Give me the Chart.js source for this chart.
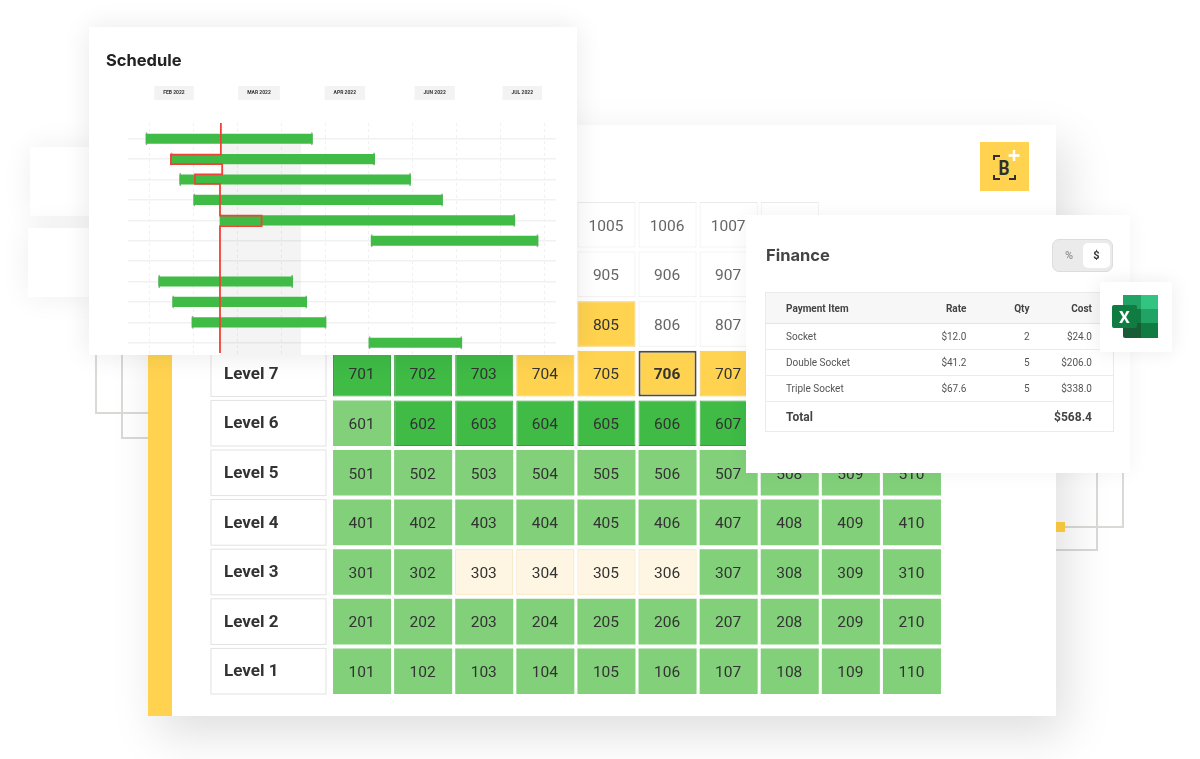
<!DOCTYPE html>
<html>
<head>
<meta charset="utf-8">
<title>Schedule and Finance</title>
<script src="https://cdn.jsdelivr.net/npm/chart.js@4"></script>
<style>
  html, body { margin: 0; padding: 0; background: #fff; font-family: Roboto, sans-serif; }
  #page { position: relative; width: 1200px; height: 759px; overflow: hidden; }
  #page > * { position: absolute; }
  .wire { background: #d9d9d5; }
  .blank { background: #fff; box-shadow: 0 0 30px rgba(0,0,0,.07); }
  #main { left: 148px; top: 125px; width: 908px; height: 591px; background: #fff; box-shadow: 10px 18px 44px rgba(0,0,0,.13); }
  #strip { left: 148px; top: 125px; width: 24px; height: 591px; background: #FFD24F; }
  #heat { left: 0; top: 0; }
  #logo { left: 980px; top: 142px; width: 49px; height: 49px; background: #FFD24F; }
  #schedule { left: 89px; top: 27px; width: 488px; height: 328px; background: #fff; box-shadow: 0 0 26px rgba(0,0,0,.09); }
  #schedule h2 { position: absolute; left: 17px; top: 23px; margin: 0; font: 700 16.5px/20px Inter, sans-serif; color: #222; }
  #gantt { position: absolute; left: 0; top: 0; }
  #finance { left: 746px; top: 215px; width: 384px; height: 258px; background: #fff; box-shadow: 0 0 20px rgba(0,0,0,.05); }
  #finance h2 { position: absolute; left: 20px; top: 30px; margin: 0; font: 700 16.5px/20px Inter, sans-serif; color: #444; }
  #toggle { position: absolute; left: 306px; top: 24px; width: 59px; height: 31px; background: #ebebeb; border: 1px solid #ddd; border-radius: 7px; font: 700 11px/31px Roboto, sans-serif; color: #999; }
  #toggle span { position: absolute; top: 0; text-align: center; }
  #toggle .pct { left: 3px; width: 26px; }
  #toggle .usd { left: 30px; width: 27px; top: 3px; height: 25px; line-height: 25px; background: #fff; border-radius: 5px; color: #333; }
  #costs { position: absolute; left: 19px; top: 77px; width: 348px; border-collapse: collapse; font: 400 10px Roboto, sans-serif; color: #555; border: 1px solid #eaeaea; table-layout: fixed; }
  #costs th { height: 30px; background: #f7f7f7; font-weight: 700; color: #444; border-bottom: 1px solid #e6e6e6; text-align: right; padding: 0; }
  #costs td { height: 25px; border-bottom: 1px solid #ececec; text-align: right; padding: 0; }
  #costs .name { text-align: left; padding-left: 20px; }
  #costs .cost { padding-right: 21px; }
  #costs tr.total td { height: 29px; font-size: 12px; font-weight: 700; color: #444; border-bottom: 0; }
  #excel { left: 1100px; top: 282px; width: 72px; height: 70px; background: #fff; box-shadow: 0 0 18px rgba(0,0,0,.08); }
</style>
</head>
<body>
<div id="page">
  <div class="wire" style="left:95px;top:340px;width:2px;height:74px"></div>
  <div class="wire" style="left:95px;top:412px;width:53px;height:2px"></div>
  <div class="wire" style="left:121px;top:340px;width:2px;height:98px"></div>
  <div class="wire" style="left:121px;top:437px;width:27px;height:2px"></div>
  <div class="wire" style="left:1122px;top:460px;width:2px;height:67px"></div>
  <div class="wire" style="left:1060px;top:526px;width:64px;height:2px"></div>
  <div class="wire" style="left:1096px;top:460px;width:2px;height:91px"></div>
  <div class="wire" style="left:1050px;top:549px;width:48px;height:2px"></div>
  <div class="blank" style="left:30px;top:147px;width:72px;height:69px"></div>
  <div class="blank" style="left:28px;top:228px;width:72px;height:69px"></div>

  <div id="main"></div>
  <div id="strip"></div>
  <div style="left:1056px;top:522px;width:9px;height:10px;background:#F3C53F"></div>
  <canvas id="heat" width="1200" height="759"></canvas>

  <div id="logo">
    <svg width="49" height="49" viewBox="0 0 49 49">
      <path d="M14 18v-4h6M14 33v4h6M35 33v4h-6" fill="none" stroke="#2f2f2f" stroke-width="2"/>
      <text x="24" y="33" text-anchor="middle" font-family="Roboto" font-weight="700" font-size="20" fill="#2f2f2f" textLength="11" lengthAdjust="spacingAndGlyphs">B</text>
      <path d="M34 8v11M28.500 13.500h11" stroke="#fff" stroke-width="2.500"/>
    </svg>
  </div>

  <div id="schedule">
    <canvas id="gantt" width="488" height="328"></canvas>
    <h2>Schedule</h2>
  </div>

  <div id="finance">
    <h2>Finance</h2>
    <div id="toggle"><span class="pct">%</span><span class="usd">$</span></div>
    <table id="costs"></table>
  </div>

  <div id="excel">
    <svg width="72" height="70" viewBox="0 0 72 70">
      <rect x="23" y="13" width="35" height="43" rx="2" fill="#185C37"/>
      <rect x="23" y="13" width="18" height="14" fill="#21A366"/>
      <rect x="41" y="13" width="17" height="14" fill="#33C481"/>
      <rect x="23" y="27" width="18" height="14" fill="#107C41"/>
      <rect x="41" y="27" width="17" height="14" fill="#21A366"/>
      <rect x="41" y="41" width="17" height="15" fill="#107C41"/>
      <rect x="12" y="23" width="25" height="23" rx="2" fill="#107C41"/>
      <text x="24.500" y="40.500" text-anchor="middle" font-family="Roboto" font-weight="700" font-size="17" fill="#fff">X</text>
    </svg>
  </div>
</div>

<script>
// room grid, bottom row first
const columns = ["1", "2", "3", "4", "5", "6", "7", "8", "9", "10"];
const levelLabels = ["Level 1", "Level 2", "Level 3", "Level 4", "Level 5", "Level 6", "Level 7"];
const rooms = [
  [101, 102, 103, 104, 105, 106, 107, 108, 109, 110],
  [201, 202, 203, 204, 205, 206, 207, 208, 209, 210],
  [301, 302, 303, 304, 305, 306, 307, 308, 309, 310],
  [401, 402, 403, 404, 405, 406, 407, 408, 409, 410],
  [501, 502, 503, 504, 505, 506, 507, 508, 509, 510],
  [601, 602, 603, 604, 605, 606, 607, null, null, null],
  [701, 702, 703, 704, 705, 706, 707, null, null, null],
  [null, null, null, null, 805, 806, 807, 808, null, null],
  [null, null, null, null, 905, 906, 907, 908, null, null],
  [null, null, null, null, 1005, 1006, 1007, 1008, null, null]
];
// g light green, d dark green, y yellow, c cream, w white, s selected
const roomStatus = [
  "gggggggggg",
  "gggggggggg",
  "ggccccgggg",
  "gggggggggg",
  "gggggggggg",
  "gddddddggg",
  "dddyysyggg",
  "ggggywwwgg",
  "ggggwwwwgg",
  "ggggwwwwgg"
];
const statusFill = { g: "#82D07A", d: "#3FBB46", y: "#FFD24F", c: "#FFF5E3", w: "#FFFFFF", s: "#FFD24F" };
const statusEdge = { g: "#82D07A", d: "#34A03C", y: "#F2C65C", c: "#F6DCA8", w: "#EBEBEB", s: "#4A4A4A" };
const statusBorder = { g: 0, d: 1, y: 1, c: 1, w: 1, s: 2 };

// schedule, rows counted from the top, x in axis units
const taskRows = [1, 2, 3, 4, 5, 6, 8, 9, 10, 11];
const taskStart = [-0.09, 0.48, 0.68, 1.0, 1.6, 5.05, 0.2, 0.52, 0.96, 5.0];
const taskEnd = [3.71, 5.13, 5.95, 6.68, 8.33, 8.86, 3.26, 3.58, 4.02, 7.12];
const scheduleRows = [1, 2, 3, 4, 5, 6, 7, 8, 9, 10, 11];
const scheduleGrid = [0, 1, 2, 3, 4, 5, 6, 7, 8, 9];
const monthLabels = ["FEB 2022", "MAR 2022", "APR 2022", "JUN 2022", "JUL 2022"];
const monthTicks = [0.55, 2.49, 4.45, 6.5, 8.5];
const pathX = [1.62, 1.62, 0.48, 0.48, 1.65, 1.65, 1.03, 1.03, 1.6, 1.6, 2.55, 2.55, 1.6, 1.6];
const pathY = [0.23, 1.78, 1.78, 2.25, 2.25, 2.75, 2.75, 3.21, 3.21, 4.77, 4.77, 5.28, 5.28, 11.5];

// finance table
const payItems = ["Socket", "Double Socket", "Triple Socket"];
const payRates = ["$12.0", "$41.2", "$67.6"];
const payQty = ["2", "5", "5"];
const payCosts = ["$24.0", "$206.0", "$338.0"];
const payTotal = "$568.4";

let rowsHtml = '<colgroup><col style="width:141px"><col style="width:60px"><col style="width:63px"><col style="width:84px"></colgroup>';
rowsHtml += '<tr><th class="name">Payment Item</th><th>Rate</th><th>Qty</th><th class="cost">Cost</th></tr>';
payItems.forEach(function (name, i) {
  rowsHtml += '<tr><td class="name">' + name + "</td><td>" + payRates[i] + "</td><td>" + payQty[i] +
    '</td><td class="cost">' + payCosts[i] + "</td></tr>";
});
rowsHtml += '<tr class="total"><td class="name">Total</td><td></td><td></td><td class="cost">' + payTotal + "</td></tr>";
document.getElementById("costs").innerHTML = rowsHtml;

Chart.defaults.font.family = "Roboto, sans-serif";
Chart.defaults.animation = false;

// white boxes behind the level labels, and the room numbers on the cells
const heatPlugin = {
  id: "heatPlugin",
  beforeDraw(chart) {
    const ctx = chart.ctx, y = chart.scales.y;
    ctx.save();
    ctx.fillStyle = "#fff";
    ctx.strokeStyle = "#E2E2E2";
    ctx.lineWidth = 1;
    levelLabels.forEach((l, i) => {
      const top = y.getPixelForValue(i + 0.96), bottom = y.getPixelForValue(i + 0.04);
      ctx.fillRect(211, top, 115, bottom - top);
      ctx.strokeRect(211, top, 115, bottom - top);
    });
    ctx.restore();
  },
  afterDatasetsDraw(chart) {
    const ctx = chart.ctx;
    ctx.save();
    ctx.textAlign = "center";
    ctx.textBaseline = "middle";
    rooms.forEach((row, i) => {
      const meta = chart.getDatasetMeta(i);
      row.forEach((room, j) => {
        if (room === null) return;
        const status = roomStatus[i][j], bar = meta.data[j];
        ctx.font = (status === "s" ? "700 " : "400 ") + "15.5px Roboto, sans-serif";
        ctx.fillStyle = status === "w" ? "#666" : "#333";
        ctx.fillText(room, bar.x - 0.5, (bar.y + bar.base) / 2 + 2);
      });
    });
    ctx.restore();
  }
};

new Chart(document.getElementById("heat"), {
  type: "bar",
  data: {
    labels: columns,
    datasets: rooms.map((row, i) => ({
      label: "Level " + (i + 1),
      grouped: false,
      barPercentage: 0.95,
      categoryPercentage: 1,
      borderSkipped: false,
      data: row.map(room => room === null ? null : [i + 0.04, i + 0.96]),
      backgroundColor: c => statusFill[roomStatus[i][c.dataIndex]],
      borderColor: c => statusEdge[roomStatus[i][c.dataIndex]],
      borderWidth: c => statusBorder[roomStatus[i][c.dataIndex]]
    }))
  },
  options: {
    responsive: false,
    devicePixelRatio: 1,
    layout: { padding: { left: 224, right: 257.5, top: 200, bottom: 63 } },
    plugins: { legend: { display: false }, tooltip: { enabled: false } },
    scales: {
      x: { display: false },
      y: {
        min: 0,
        max: 10,
        grid: { display: false, drawTicks: false },
        border: { display: false },
        afterFit: s => { s.width = 107.5; },
        afterBuildTicks: s => { s.ticks = levelLabels.map((l, i) => ({ value: i + 0.48 })); },
        ticks: {
          autoSkip: false,
          crossAlign: "far",
          color: "#333",
          font: { size: 17, weight: "700" },
          callback: v => levelLabels[Math.floor(v)]
        }
      }
    }
  },
  plugins: [heatPlugin]
});

// grey band of the current period
const bandStart = 1.62, bandEnd = 3.45, bandRow = 1.26;
const bandPlugin = {
  id: "bandPlugin",
  beforeDatasetsDraw(chart) {
    const { ctx, scales: { x, y }, chartArea } = chart;
    const left = x.getPixelForValue(bandStart), top = y.getPixelForValue(bandRow);
    ctx.save();
    ctx.fillStyle = "rgba(0,0,0,0.045)";
    ctx.fillRect(left, top, x.getPixelForValue(bandEnd) - left, chartArea.bottom - top);
    ctx.restore();
  }
};

const taskData = taskRows.map((row, i) => ({ y: row, x: [taskStart[i], taskEnd[i]] }));

new Chart(document.getElementById("gantt"), {
  type: "bar",
  data: {
    datasets: [
      {
        type: "scatter",
        label: "Critical path",
        indexAxis: "x",
        order: 0,
        showLine: true,
        data: pathX.map((x, i) => ({ x: x, y: pathY[i] })),
        borderColor: "#EE4336",
        borderWidth: 1.8,
        pointRadius: 0
      },
      {
        label: "Tasks",
        order: 1,
        grouped: false,
        barThickness: 9.5,
        data: taskData,
        backgroundColor: "#3FBB46"
      },
      {
        label: "Task ends",
        order: 2,
        grouped: false,
        barThickness: 13,
        data: taskData,
        backgroundColor: "rgba(0,0,0,0)",
        borderColor: "#A8A8A8",
        borderSkipped: false,
        borderWidth: { left: 1, right: 1, top: 0, bottom: 0 }
      }
    ]
  },
  options: {
    indexAxis: "y",
    responsive: false,
    devicePixelRatio: 1,
    layout: { padding: { left: 39, right: 21, top: 0, bottom: 0 } },
    plugins: { legend: { display: false }, tooltip: { enabled: false } },
    scales: {
      x: {
        type: "linear",
        min: -0.5,
        max: 9.27,
        afterBuildTicks: s => { s.ticks = scheduleGrid.map(v => ({ value: v })); },
        ticks: { display: false },
        grid: { color: "#F0F0F0", drawTicks: false },
        border: { display: false, dash: [3, 3] }
      },
      x2: {
        type: "linear",
        position: "top",
        min: -0.5,
        max: 9.27,
        afterFit: s => { s.height = 96; },
        afterBuildTicks: s => { s.ticks = monthTicks.map(v => ({ value: v })); },
        grid: { display: false, drawTicks: false },
        border: { display: false },
        ticks: {
          autoSkip: false,
          maxRotation: 0,
          padding: 27,
          color: "#333",
          font: { size: 5, weight: "700" },
          showLabelBackdrop: true,
          backdropColor: "#F3F3F3",
          backdropPadding: { x: 9, y: 4 },
          callback: v => monthLabels[monthTicks.indexOf(v)]
        }
      },
      y: {
        type: "linear",
        reverse: true,
        offset: false,
        min: 0.23,
        max: 11.6,
        afterBuildTicks: s => { s.ticks = scheduleRows.map(v => ({ value: v })); },
        ticks: { display: false },
        grid: { offset: false, color: "#F1F1F1", lineWidth: 1.5, drawTicks: false },
        border: { display: false }
      }
    }
  },
  plugins: [bandPlugin]
});
</script>
</body>
</html>
